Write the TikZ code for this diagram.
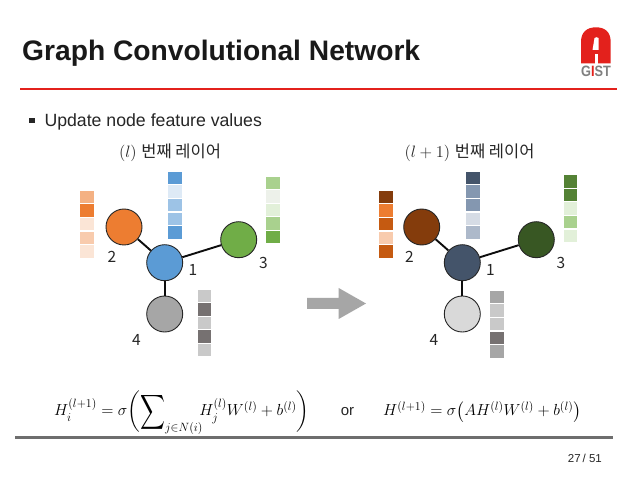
\documentclass[tikz,border=0pt]{standalone}
\usepackage{fix-cm}
\usepackage{amsmath}
\usepackage{graphicx}
\usepackage{fontspec}
\setmainfont{Liberation Sans}
\newfontfamily\krfont{Noto Sans CJK KR}
\DeclareMathSizes{16.5}{16.5}{12.5}{10}
\DeclareMathSizes{16}{16}{12}{9.5}
\definecolor{bA}{HTML}{5B9BD5}\definecolor{bB}{HTML}{DEEAF6}\definecolor{bC}{HTML}{9DC3E6}
\definecolor{oA}{HTML}{ED7D31}\definecolor{oB}{HTML}{F4B183}\definecolor{oC}{HTML}{FBE5D6}\definecolor{oD}{HTML}{F8CBAD}\definecolor{oE}{HTML}{C55A11}\definecolor{oF}{HTML}{843C0C}
\definecolor{gA}{HTML}{70AD47}\definecolor{gB}{HTML}{A9D18E}\definecolor{gC}{HTML}{E2F0D9}\definecolor{gD}{HTML}{EDF1EA}\definecolor{gE}{HTML}{548235}\definecolor{gF}{HTML}{385723}
\definecolor{kA}{HTML}{A6A6A6}\definecolor{kB}{HTML}{C9C9C9}\definecolor{kC}{HTML}{767171}\definecolor{kD}{HTML}{D9D9D9}
\definecolor{nA}{HTML}{44546A}\definecolor{nB}{HTML}{8497B0}\definecolor{nC}{HTML}{D6DCE5}\definecolor{nD}{HTML}{ADB9CA}
\definecolor{ruleRed}{HTML}{E3211C}\definecolor{ruleGray}{HTML}{6E6E6E}
\newcommand{\featbar}[7]{%
 \foreach \c [count=\i from 0] in {#3,#4,#5,#6,#7}{
  \fill[\c] (#1,#2+\i*13.6+0.6) rectangle (#1+13.7,#2+\i*13.6+13.0);
 }}
\newcommand{\bigsum}{\mathop{\vcenter{\hbox{\scalebox{1.0}[1.4]{$\displaystyle\sum$}}}}}
\tikzset{
 gnode/.style={circle,draw=black!85,line width=0.9pt,minimum size=36pt,inner sep=0pt},
 gedge/.style={draw=black!95,line width=1.9pt},
 numlab/.style={font=\krfont\fontsize{15.5}{15.5}\selectfont,text=black!85,inner sep=0pt},
 laylab/.style={font=\fontsize{16.5}{16.5}\selectfont,text=black!85,inner sep=0pt},
 eqlab/.style={font=\fontsize{16}{16}\selectfont,text=black,inner sep=0pt}
}
\begin{document}
\begin{tikzpicture}[x=1pt,y=-1pt]
\useasboundingbox[fill=white] (0,0) rectangle (638,478);
% title
\node[anchor=base west,inner sep=0pt,font=\bfseries\fontsize{28.2}{28.2}\selectfont,text=black!90] (title) at (22,60.5) {Graph Convolutional Network};
\coordinate (tl) at (20,89);\coordinate (tr) at (617,89);
\draw[ruleRed,line width=2.8pt] (tl) -- (tr);
% bullet
\fill[black!85] (29,118) rectangle (34.5,123.5);
\node[anchor=base west,inner sep=0pt,font=\fontsize{17.7}{17.7}\selectfont,text=black!85] (sub) at (44.3,126.5) {Update node feature values};
% logo
\fill[ruleRed] (581,63.5) -- (581,42) .. controls (581,32) and (587,27.3) .. (596,27.3) .. controls (605,27.3) and (610.7,32) .. (610.7,42) -- (610.7,63.5) -- cycle;
\fill[white] (594.5,38) .. controls (595.5,37) and (597.5,37) .. (598.5,38) -- (598.5,50) -- (592.5,50) -- cycle;
\fill[white] (595,54) -- (597.5,54) -- (597.5,64) -- (595,64) -- cycle;
\node[inner sep=0pt,xscale=0.85,font=\bfseries\fontsize{15}{15}\selectfont,text=gray] (gist) at (596,71) {G\textcolor{ruleRed}{I}ST};
% layer titles
\node[laylab] (ll) at (170,152.5) {$(l)$ {\krfont 번째 레이어}};
\node[laylab] (lr) at (469.5,152.5) {$(l+1)$ {\krfont 번째 레이어}};
% left graph
\node[gnode,fill=bA] (a1) at (164.7,262.7) {};
\node[gnode,fill=oA] (a2) at (124,227) {};
\node[gnode,fill=gA] (a3) at (238.7,239.7) {};
\node[gnode,fill=kA] (a4) at (164.7,314) {};
\draw[gedge] (a1)--(a2);\draw[gedge] (a1)--(a3);\draw[gedge] (a1)--(a4);
\featbar{80}{190.3}{oB}{oA}{oC}{oD}{oC}
\featbar{168.3}{171.3}{bA}{bB}{bC}{bC}{bA}
\featbar{266.3}{176}{gB}{gD}{gC}{gB}{gA}
\featbar{197.7}{289}{kB}{kC}{kB}{kC}{kB}
\node[numlab] (na1) at (193,270) {1};
\node[numlab] (na2) at (112,257) {2};
\node[numlab] (na3) at (263.5,263) {3};
\node[numlab] (na4) at (136.5,340) {4};
% arrow
\fill[kA] (307,298) -- (338.7,298) -- (338.7,288) -- (366,303.5) -- (338.7,319) -- (338.7,309) -- (307,309) -- cycle;
% right graph
\node[gnode,fill=nA] (b1) at (462.3,262.7) {};
\node[gnode,fill=oF] (b2) at (421.7,227) {};
\node[gnode,fill=gF] (b3) at (536.3,239.7) {};
\node[gnode,fill=kD] (b4) at (462.3,314) {};
\draw[gedge] (b1)--(b2);\draw[gedge] (b1)--(b3);\draw[gedge] (b1)--(b4);
\featbar{379}{190.3}{oF}{oA}{oE}{oD}{oE}
\featbar{466.3}{171.3}{nA}{nB}{nB}{nC}{nD}
\featbar{563.7}{174.7}{gE}{gE}{gC}{gB}{gC}
\featbar{490}{290.3}{kA}{kB}{kB}{kC}{kA}
\node[numlab] (nb1) at (490.5,270) {1};
\node[numlab] (nb2) at (409.5,257) {2};
\node[numlab] (nb3) at (561,263) {3};
\node[numlab] (nb4) at (434,340) {4};
% equations
\node[eqlab,anchor=base west] (eq1) at (54,416) {$H_i^{(l+1)}=\sigma\!\left(\bigsum\nolimits_{j\in N(i)}\mkern-7mu H_j^{(l)}W^{(l)}+b^{(l)}\right)$};
\node[inner sep=0pt,font=\fontsize{15}{15}\selectfont,text=black!85] (orw) at (347.5,411.5) {or};
\node[eqlab,anchor=base west] (eq2) at (383,416) {$H^{(l+1)}=\sigma\bigl(AH^{(l)}W^{(l)}+b^{(l)}\bigr)$};
\coordinate (bl) at (15,437.5);\coordinate (br) at (613,437.5);
\draw[ruleGray,line width=3pt] (bl) -- (br);
\node[anchor=east,inner sep=0pt,font=\fontsize{11.5}{11.5}\selectfont,text=black!85] (pg) at (602,458.5) {27\,/ 51};
\end{tikzpicture}
\end{document}
